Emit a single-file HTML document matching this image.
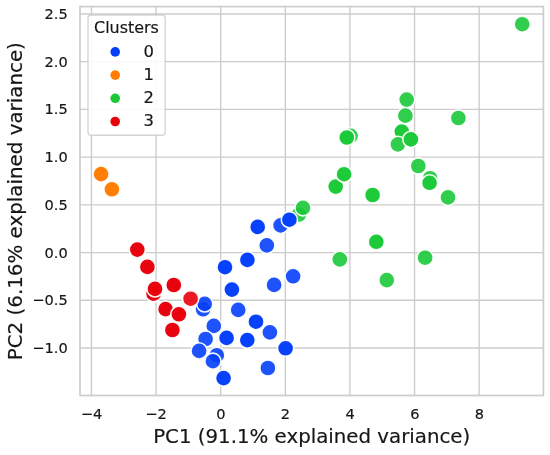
<!DOCTYPE html>
<html lang="en">
<head>
<meta charset="utf-8">
<title>PCA cluster scatter plot</title>
<style>
html,body{margin:0;padding:0;background:#fff;}
body{width:550px;height:455px;overflow:hidden;}
svg{display:block;}
text{font-family:"DejaVu Sans","Liberation Sans",sans-serif;fill:#161616;stroke:#161616;stroke-width:.18px;}
.tk{font-size:14.6px;}
.ax{font-size:19.75px;}
.lg{font-size:15.9px;}
.g{stroke:#cccccc;stroke-width:1.35;fill:none;}
.sp{stroke:#cccccc;stroke-width:1.65;fill:none;}
.p{stroke:#ffffff;stroke-width:1.6;stroke-opacity:.95;}
</style>
</head>
<body>
<svg width="550" height="455" viewBox="0 0 550 455">
<rect x="0" y="0" width="550" height="455" fill="#ffffff"/>
<g class="g">
<line x1="91.46" y1="6.6" x2="91.46" y2="395.5"/>
<line x1="156.08" y1="6.6" x2="156.08" y2="395.5"/>
<line x1="220.7" y1="6.6" x2="220.7" y2="395.5"/>
<line x1="285.32" y1="6.6" x2="285.32" y2="395.5"/>
<line x1="349.94" y1="6.6" x2="349.94" y2="395.5"/>
<line x1="414.56" y1="6.6" x2="414.56" y2="395.5"/>
<line x1="479.18" y1="6.6" x2="479.18" y2="395.5"/>
<line x1="80.0" y1="13.95" x2="543.4" y2="13.95"/>
<line x1="80.0" y1="61.67" x2="543.4" y2="61.67"/>
<line x1="80.0" y1="109.39" x2="543.4" y2="109.39"/>
<line x1="80.0" y1="157.11" x2="543.4" y2="157.11"/>
<line x1="80.0" y1="204.85" x2="543.4" y2="204.85"/>
<line x1="80.0" y1="252.55" x2="543.4" y2="252.55"/>
<line x1="80.0" y1="300.27" x2="543.4" y2="300.27"/>
<line x1="80.0" y1="348.0" x2="543.4" y2="348.0"/>
</g>
<g class="p">
<circle cx="522.2" cy="24.2" r="8.1" fill="#1ac938" fill-opacity="0.9"/>
<circle cx="401.8" cy="131.55" r="8.1" fill="#1ac938" fill-opacity="0.99"/>
<circle cx="397.9" cy="144.35" r="8.1" fill="#1ac938" fill-opacity="0.9"/>
<circle cx="406.7" cy="99.6" r="8.1" fill="#1ac938" fill-opacity="0.9"/>
<circle cx="405.4" cy="115.65" r="8.1" fill="#1ac938" fill-opacity="0.9"/>
<circle cx="410.9" cy="139.35" r="8.1" fill="#1ac938" fill-opacity="0.99"/>
<circle cx="350.6" cy="135.8" r="8.1" fill="#1ac938" fill-opacity="0.9"/>
<circle cx="346.8" cy="137.5" r="8.1" fill="#1ac938" fill-opacity="0.99"/>
<circle cx="458.4" cy="118.0" r="8.1" fill="#1ac938" fill-opacity="0.9"/>
<circle cx="418.3" cy="166.0" r="8.1" fill="#1ac938" fill-opacity="0.9"/>
<circle cx="335.7" cy="186.6" r="8.1" fill="#1ac938" fill-opacity="0.99"/>
<circle cx="344.1" cy="174.2" r="8.1" fill="#1ac938" fill-opacity="0.99"/>
<circle cx="372.6" cy="195.0" r="8.1" fill="#1ac938" fill-opacity="0.99"/>
<circle cx="430.1" cy="178.2" r="8.1" fill="#1ac938" fill-opacity="0.9"/>
<circle cx="429.6" cy="182.8" r="8.1" fill="#1ac938" fill-opacity="0.99"/>
<circle cx="448.0" cy="197.4" r="8.1" fill="#1ac938" fill-opacity="0.9"/>
<circle cx="339.8" cy="259.4" r="8.1" fill="#1ac938" fill-opacity="0.9"/>
<circle cx="376.3" cy="241.8" r="8.1" fill="#1ac938" fill-opacity="0.99"/>
<circle cx="386.8" cy="280.1" r="8.1" fill="#1ac938" fill-opacity="0.9"/>
<circle cx="425.1" cy="257.7" r="8.1" fill="#1ac938" fill-opacity="0.9"/>
<circle cx="298.9" cy="214.5" r="8.1" fill="#1ac938" fill-opacity="0.9"/>
<circle cx="303.0" cy="207.8" r="8.1" fill="#1ac938" fill-opacity="0.9"/>
<circle cx="280.6" cy="225.4" r="8.1" fill="#053ffa" fill-opacity="0.9"/>
<circle cx="289.4" cy="219.7" r="8.1" fill="#053ffa" fill-opacity="0.99"/>
<circle cx="257.7" cy="226.9" r="8.1" fill="#053ffa" fill-opacity="0.99"/>
<circle cx="266.8" cy="245.4" r="8.1" fill="#053ffa" fill-opacity="0.9"/>
<circle cx="247.4" cy="259.9" r="8.1" fill="#053ffa" fill-opacity="0.99"/>
<circle cx="225.0" cy="267.2" r="8.1" fill="#053ffa" fill-opacity="0.99"/>
<circle cx="293.1" cy="276.3" r="8.1" fill="#053ffa" fill-opacity="0.9"/>
<circle cx="274.1" cy="284.9" r="8.1" fill="#053ffa" fill-opacity="0.9"/>
<circle cx="231.9" cy="289.6" r="8.1" fill="#053ffa" fill-opacity="0.99"/>
<circle cx="238.2" cy="309.9" r="8.1" fill="#053ffa" fill-opacity="0.9"/>
<circle cx="256.0" cy="321.7" r="8.1" fill="#053ffa" fill-opacity="0.99"/>
<circle cx="269.9" cy="332.4" r="8.1" fill="#053ffa" fill-opacity="0.9"/>
<circle cx="285.6" cy="348.3" r="8.1" fill="#053ffa" fill-opacity="0.99"/>
<circle cx="267.9" cy="368.0" r="8.1" fill="#053ffa" fill-opacity="0.9"/>
<circle cx="247.3" cy="340.1" r="8.1" fill="#053ffa" fill-opacity="0.99"/>
<circle cx="226.6" cy="337.9" r="8.1" fill="#053ffa" fill-opacity="0.99"/>
<circle cx="213.8" cy="325.9" r="8.1" fill="#053ffa" fill-opacity="0.9"/>
<circle cx="205.6" cy="339.0" r="8.1" fill="#053ffa" fill-opacity="0.9"/>
<circle cx="199.1" cy="350.9" r="8.1" fill="#053ffa" fill-opacity="0.9"/>
<circle cx="216.8" cy="355.2" r="8.1" fill="#053ffa" fill-opacity="0.9"/>
<circle cx="212.9" cy="361.2" r="8.1" fill="#053ffa" fill-opacity="0.9"/>
<circle cx="223.6" cy="378.1" r="8.1" fill="#053ffa" fill-opacity="0.99"/>
<circle cx="203.1" cy="309.3" r="8.1" fill="#053ffa" fill-opacity="0.9"/>
<circle cx="204.7" cy="303.9" r="8.1" fill="#053ffa" fill-opacity="0.9"/>
<circle cx="137.3" cy="249.6" r="8.1" fill="#e8000b" fill-opacity="0.99"/>
<circle cx="147.4" cy="266.9" r="8.1" fill="#e8000b" fill-opacity="0.99"/>
<circle cx="153.6" cy="293.7" r="8.1" fill="#e8000b" fill-opacity="0.99"/>
<circle cx="155.0" cy="288.9" r="8.1" fill="#e8000b" fill-opacity="0.99"/>
<circle cx="173.8" cy="285.0" r="8.1" fill="#e8000b" fill-opacity="0.99"/>
<circle cx="190.6" cy="298.7" r="8.1" fill="#e8000b" fill-opacity="0.9"/>
<circle cx="165.6" cy="309.1" r="8.1" fill="#e8000b" fill-opacity="0.99"/>
<circle cx="178.9" cy="314.3" r="8.1" fill="#e8000b" fill-opacity="0.99"/>
<circle cx="172.4" cy="330.0" r="8.1" fill="#e8000b" fill-opacity="0.99"/>
<circle cx="101.1" cy="174.1" r="8.1" fill="#ff7c00" fill-opacity="0.99"/>
<circle cx="111.9" cy="189.3" r="8.1" fill="#ff7c00" fill-opacity="0.99"/>
</g>
<rect class="sp" x="80.0" y="6.6" width="463.4" height="388.9"/>
<g class="tk" text-anchor="middle">
<text x="91.46" y="419.3">−4</text>
<text x="156.13" y="419.3">−2</text>
<text x="220.80" y="419.3">0</text>
<text x="285.47" y="419.3">2</text>
<text x="350.14" y="419.3">4</text>
<text x="414.81" y="419.3">6</text>
<text x="479.48" y="419.3">8</text>
</g>
<g class="tk" text-anchor="end">
<text x="67.8" y="18.9">2.5</text>
<text x="67.8" y="66.7">2.0</text>
<text x="67.8" y="114.4">1.5</text>
<text x="67.8" y="162.1">1.0</text>
<text x="67.8" y="209.8">0.5</text>
<text x="67.8" y="257.6">0.0</text>
<text x="67.8" y="305.3">−0.5</text>
<text x="67.8" y="353.0">−1.0</text>
</g>
<text class="ax" text-anchor="middle" x="311.7" y="442.5" style="font-size:19.8px">PC1 (91.1% explained variance)</text>
<text class="ax" text-anchor="middle" transform="translate(22.3 201.2) rotate(-90)" style="font-size:19.85px">PC2 (6.16% explained variance)</text>
<rect x="88.0" y="15.0" width="77.2" height="120.2" rx="3.3" ry="3.3" fill="#ffffff" fill-opacity="0.88" stroke="#cccccc" stroke-opacity="0.85" stroke-width="1.35"/>
<text class="lg" text-anchor="middle" x="126.4" y="32.8">Clusters</text>
<circle cx="115.2" cy="51.9" r="4.8" fill="#053ffa"/>
<text class="lg" x="143.4" y="56.6" style="font-size:16.4px">0</text>
<circle cx="115.2" cy="75.1" r="4.8" fill="#ff7c00"/>
<text class="lg" x="143.4" y="79.8" style="font-size:16.4px">1</text>
<circle cx="115.2" cy="98.3" r="4.8" fill="#1ac938"/>
<text class="lg" x="143.4" y="103.0" style="font-size:16.4px">2</text>
<circle cx="115.2" cy="121.5" r="4.8" fill="#e8000b"/>
<text class="lg" x="143.4" y="126.2" style="font-size:16.4px">3</text>
</svg>
</body>
</html>
